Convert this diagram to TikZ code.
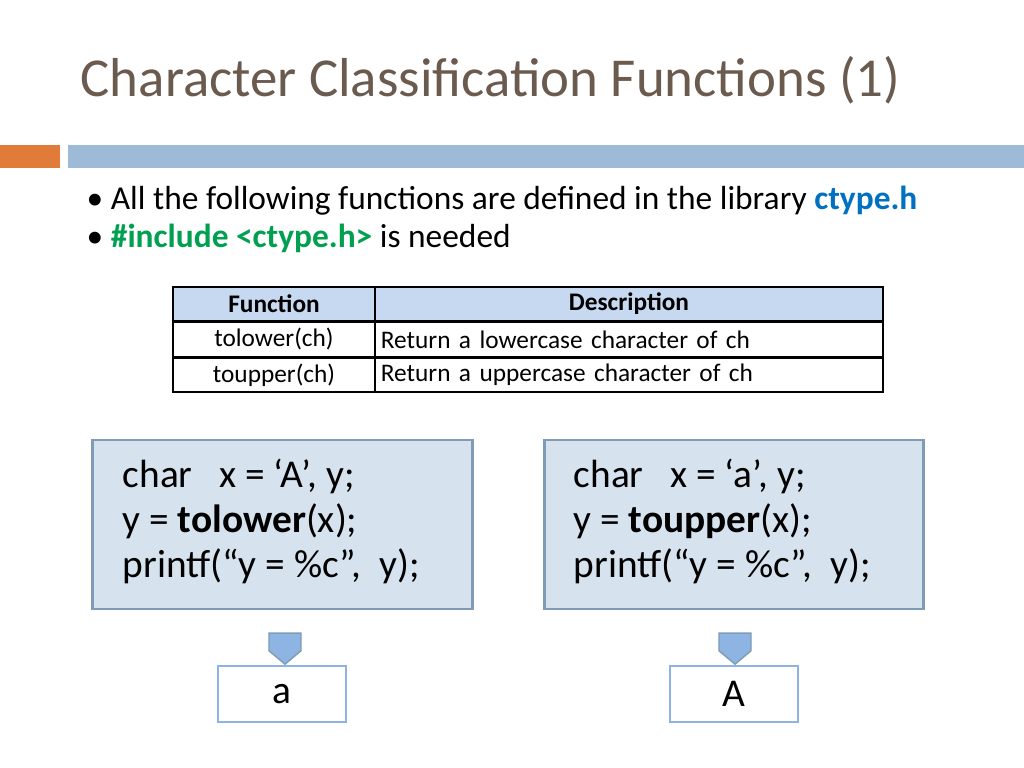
\documentclass[tikz,border=0pt]{standalone}
\usepackage{fontspec}
\setmainfont{Carlito}
\usetikzlibrary{positioning,shapes.arrows}
\definecolor{titlegray}{HTML}{6B5A4E}
\definecolor{barorange}{HTML}{E07B39}
\definecolor{barblue}{HTML}{9DBBD6}
\definecolor{libblue}{HTML}{0070C0}
\definecolor{incgreen}{HTML}{00A050}
\definecolor{headfill}{HTML}{C6D9F1}
\definecolor{codefill}{HTML}{D6E3EF}
\definecolor{codeline}{HTML}{7F9BB5}
\definecolor{arrowfill}{HTML}{8EB4E3}
\tikzset{
  cell/.style={draw=black,thin,minimum height=0.34cm,inner sep=0pt,font=\fontsize{7.2}{8}\selectfont},
  codebox/.style={draw=codeline,fill=codefill,thick,minimum width=3.79cm,minimum height=1.69cm,inner sep=0pt},
  codetext/.style={align=left,anchor=north west,font=\fontsize{11.2}{12.8}\selectfont,inner sep=0pt},
  resbox/.style={draw=arrowfill,thick,fill=white,minimum width=1.28cm,minimum height=0.56cm,font=\fontsize{11.2}{13}\selectfont},
  downarrow/.style={single arrow,draw=codeline,fill=arrowfill,shape border rotate=270,minimum width=0.32cm,single arrow head extend=0pt,minimum height=0.31cm,inner sep=0pt,single arrow tip angle=100}
}
\begin{document}
\begin{tikzpicture}[x=0.01cm,y=-0.01cm]
  \useasboundingbox (0,0) rectangle (1024,768);
  % title and bars
  \node[anchor=base west,inner sep=0pt,text=titlegray,font=\fontsize{15.6}{17}\selectfont] (title) at (80,97) {Character Classification Functions (1)};
  \fill[barorange] (0,145) rectangle (60,168);
  \fill[barblue] (68,145) rectangle (1024,168);
  % bullets
  \node[anchor=base west,inner sep=0pt,font=\fontsize{9.5}{11}\selectfont] (b1) at (86,210) {\textbullet\ All the following functions are defined in the library \textcolor{libblue}{\textbf{ctype.h}}};
  \node[anchor=base west,inner sep=0pt,font=\fontsize{9.5}{11}\selectfont] (b2) at (86,248) {\textbullet\ \textcolor{incgreen}{\textbf{\#include <ctype.h>}} is needed};
  % table
  \node[cell,fill=headfill,minimum width=2.02cm] (h1) at (274,304) {\textbf{Function}};
  \node[cell,fill=headfill,minimum width=5.08cm] (h2) at (629,304) {\textbf{Description}};
  \node[cell,minimum width=2.02cm,below=0pt of h1] (r1) {tolower(ch)};
  \node[cell,minimum width=5.08cm,below=0pt of h2,text width=4.96cm,align=left] (d1) {Return a lowercase character of ch};
  \node[cell,minimum width=2.02cm,below=0pt of r1] (r2) {toupper(ch)};
  \node[cell,minimum width=5.08cm,below=0pt of d1,text width=4.96cm,align=left] (d2) {Return a uppercase character of ch};
  % code boxes
  \node[codebox] (left) at (282.5,524.5) {};
  \node[codebox] (right) at (734,524.5) {};
  \node[codetext] at (122,458) {char\ \ \ x = ‘A’, y;\\y = \textbf{tolower}(x);\\printf(“y = \%c”,\ \ y);};
  \node[codetext] at (573,458) {char\ \ \ x = ‘a’, y;\\y = \textbf{toupper}(x);\\printf(“y = \%c”,\ \ y);};
  % arrows and results
  \node[downarrow] (al) at (285,642) {};
  \node[downarrow] (ar) at (735,642) {};
  \node[resbox] (resl) at (282,694) {a};
  \node[resbox] (resr) at (734,694) {A};
\end{tikzpicture}
\end{document}
